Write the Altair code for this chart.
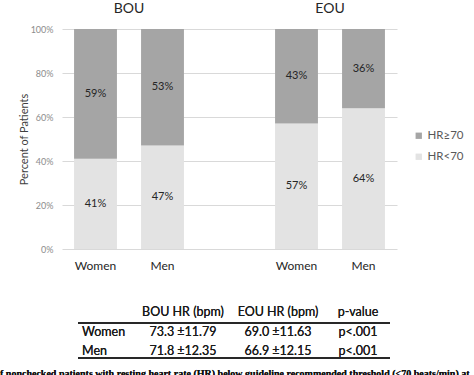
import altair as alt
import pandas as pd

# ---- data ----
groups = ["BOU", "BOU", "EOU", "EOU"]
sexes = ["Women", "Men", "Women", "Men"]
below70 = [41, 47, 57, 64]
above70 = [59, 53, 43, 36]
cat_order = ["BOU Women", "BOU Men", "gap", "EOU Women", "EOU Men"]
series_names = ["HR≥70", "HR<70"]
series_colors = ["#A5A5A5", "#E3E3E3"]

table_header = ["BOU HR (bpm)", "EOU HR (bpm)", "p-value"]
table_rows = ["Women", "Men"]
bou_hr = ["73.3 ±11.79", "71.8 ±12.35"]
eou_hr = ["69.0 ±11.63", "66.9  ±12.15"]
p_values = ["p<.001", "p<.001"]
caption = ("f nonchecked patients with resting heart rate (HR) below guideline "
           "recommended threshold (<70 beats/min) at")

FONT = "Lato"

rows = []
for g, s, b, a in zip(groups, sexes, below70, above70):
    rows.append(dict(cat=f"{g} {s}", series="HR<70", pct=b / 100, ord=0))
    rows.append(dict(cat=f"{g} {s}", series="HR≥70", pct=a / 100, ord=1))
df = pd.DataFrame(rows)

W, H = 335, 220
PL, PT = 62, 29

xscale = alt.Scale(domain=cat_order, paddingInner=0.36, paddingOuter=0.18)
xenc = alt.X(
    "cat:N", scale=xscale, sort=cat_order,
    axis=alt.Axis(
        title=None,
        labelExpr="datum.label == 'gap' ? '' : split(datum.label, ' ')[1]",
        ticks=False, labelAngle=0, labelFontSize=12, labelColor="#262626",
        labelPadding=11, domain=False, grid=False, labelFont=FONT,
    ),
)

bars = alt.Chart(df).mark_bar().encode(
    x=xenc,
    y=alt.Y(
        "pct:Q", stack="zero", scale=alt.Scale(domain=[0, 1]),
        axis=alt.Axis(
            format="%", values=[0, 0.2, 0.4, 0.6, 0.8, 1.0],
            title="Percent of Patients", titleFontSize=11, titleFontWeight="normal",
            titleColor="#404040", titleFont=FONT, titlePadding=1,
            labelFontSize=9, labelColor="#8C8C8C", labelFont=FONT, labelPadding=9,
            ticks=False, domain=False, gridColor="#D9D9D9", gridWidth=1,
        ),
    ),
    color=alt.Color(
        "series:N",
        scale=alt.Scale(domain=series_names, range=series_colors),
        legend=alt.Legend(
            title=None, orient="none", legendX=351, legendY=101,
            symbolType="square", symbolSize=40, symbolStrokeWidth=0,
            labelFontSize=11.5, labelColor="#595959", labelFont=FONT,
            rowPadding=8, labelOffset=3,
        ),
    ),
    order=alt.Order("ord:Q"),
)

labels = alt.Chart(df).transform_stack(
    stack="pct", as_=["y0", "y1"], groupby=["cat"], sort=[alt.SortField("ord")]
).transform_calculate(
    mid="(datum.y0 + datum.y1) / 2"
).mark_text(fontSize=11, color="#262626", font=FONT).encode(
    x=alt.X("cat:N", scale=xscale, sort=cat_order),
    y=alt.Y("mid:Q"),
    text=alt.Text("pct:Q", format=".0%"),
)

gt = pd.DataFrame({"cat": ["BOU Men", "EOU Men"], "label": ["BOU", "EOU"]})
group_titles = alt.Chart(gt).mark_text(
    fontSize=14, color="#262626", font=FONT, dx=-33.5
).encode(
    x=alt.X("cat:N", scale=xscale, sort=cat_order),
    y=alt.value(9 - PT),
    text="label:N",
)

layers = [bars, labels, group_titles]

# ---- table ----
col_x = [183, 278, 358]
row_y = [332, 351]
head_y = 312
tfont = 12.5
for cx, h in zip(col_x, table_header):
    layers.append(alt.Chart(gt).mark_text(fontSize=tfont, color="#1a1a1a", font=FONT).encode(
        x=alt.value(cx - PL), y=alt.value(head_y - PT), text=alt.value(h)))
for i, r in enumerate(table_rows):
    layers.append(alt.Chart(gt).mark_text(fontSize=tfont, color="#1a1a1a", font=FONT, align="left").encode(
        x=alt.value(82 - PL), y=alt.value(row_y[i] - PT), text=alt.value(r)))
    for cx, vals in zip(col_x, [bou_hr, eou_hr, p_values]):
        layers.append(alt.Chart(gt).mark_text(fontSize=tfont, color="#1a1a1a", font=FONT).encode(
            x=alt.value(cx - PL), y=alt.value(row_y[i] - PT), text=alt.value(vals[i])))
for ry in [323, 358]:
    layers.append(alt.Chart(gt).mark_rule(color="#1a1a1a", strokeWidth=1.5).encode(
        x=alt.value(78 - PL), x2=alt.value(390 - PL), y=alt.value(ry - PT)))

layers.append(alt.Chart(gt).mark_text(
    fontSize=10, color="#111111", font="Liberation Serif", fontWeight="bold",
    align="left", baseline="alphabetic"
).encode(x=alt.value(-PL), y=alt.value(377 - PT), text=alt.value(caption)))

chart = alt.layer(*layers).properties(
    width=W, height=H,
    padding={"left": PL, "top": PT, "right": 474 - PL - W, "bottom": 375 - PT - H},
    autosize=alt.AutoSizeParams(type="none"),
    background="white",
).configure_view(stroke=None)

chart.save("out.html", embed_options={"renderer": "svg", "actions": False})
